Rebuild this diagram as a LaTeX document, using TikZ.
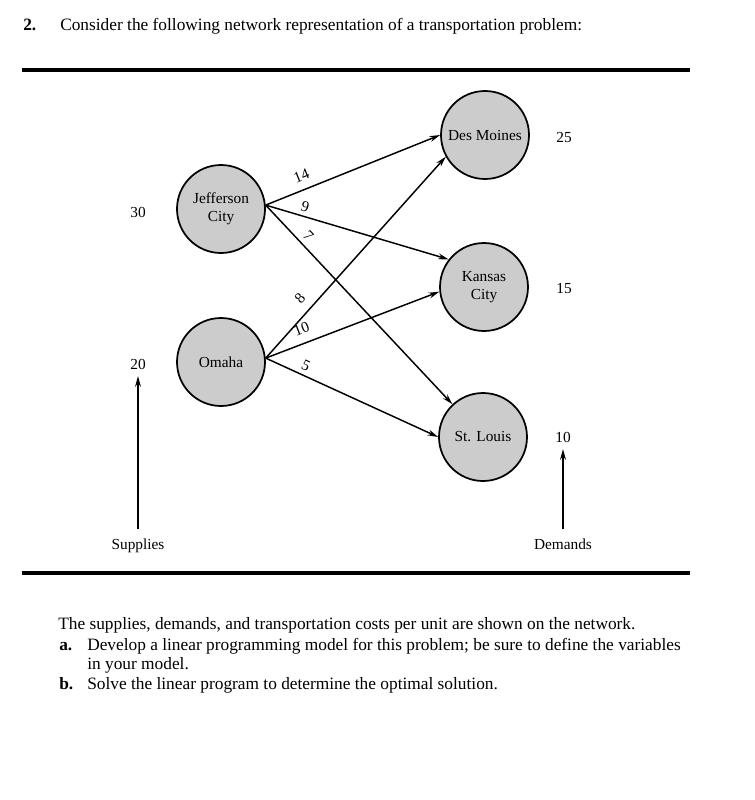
\documentclass[tikz,border=0pt]{standalone}
\usepackage{fontspec}
\setmainfont{Liberation Serif}
\usetikzlibrary{arrows.meta}
\tikzstyle{city}  = [circle, draw=black, line width=1.3pt, fill=gray!40, minimum size=66pt, inner sep=0pt, align=center]
\tikzstyle{arrow} = [line width=1.1pt, -{Stealth[length=8pt,width=4.4pt]}]
\tikzstyle{cost}  = [sloped, above=2.5pt, inner sep=0.5pt]

\begin{document}
\begin{tikzpicture}[x=0.75pt, y=-0.75pt, font=\fontsize{11.5}{13.5}\selectfont,
			qtext/.style={anchor=base west, inner sep=0pt, font=\fontsize{13}{15}\selectfont},
			amount/.style={inner sep=2pt}]

		\useasboundingbox (0,0) rectangle (755,800);

		\node[qtext] (num) at (23,30) {\textbf{2.}};
		\node[qtext] (intro) at (60,30) {Consider the following network representation of a transportation problem:};

		\draw[line width=3pt] (22,70) -- (690,70);
		\draw[line width=3pt] (22,573) -- (690,573);

		\node[city] (jc) at (221,209) {Jefferson\\City};
		\node[city] (om) at (221,362) {Omaha};
		\node[city] (dm) at (485,135) {Des Moines};
		\node[city] (kc) at (484,287) {Kansas\\City};
		\node[city] (sl) at (483,437) {St. Louis};

		\node[amount] (sup1) at (138,212) {30};
		\node[amount] (sup2) at (138,364) {20};
		\node[amount] (dem1) at (564,137) {25};
		\node[amount] (dem2) at (564,289) {15};
		\node[amount] (dem3) at (563,437) {10};

		\node[amount, anchor=base] (supplies) at (138,549) {Supplies};
		\node[amount, anchor=base] (demands) at (563,549) {Demands};

		\draw[arrow, shorten <=4.5pt, shorten >=3pt] (supplies.north) -- (sup2.south);
		\draw[arrow, shorten <=4.5pt, shorten >=3pt] (demands.north) -- (dem3.south);

		\draw[arrow] (jc.5) -- node[cost, pos=0.235, above=3.3pt] {14} (dm.west);
		\draw[arrow] (jc.5) -- node[cost, pos=0.2] {9} (kc.142);
		\draw[arrow] (jc.5) -- node[cost, pos=0.19] {7} (sl.133);
		\draw[arrow] (om.5) -- node[cost, pos=0.25, above=3.3pt] {8} (dm.209);
		\draw[arrow] (om.5) -- node[cost, pos=0.236, above=3.3pt] {10} (kc.186);
		\draw[arrow] (om.5) -- node[cost, pos=0.21] {5} (sl.west);

		\node[qtext] (ptext) at (58,629) {The supplies, demands, and transportation costs per unit are shown on the network.};
		\node[qtext] (la) at (59,650) {\textbf{a.}};
		\node[qtext] (pa) at (87,650) {Develop a linear programming model for this problem; be sure to define the variables};
		\node[qtext] (pa2) at (87,669) {in your model.};
		\node[qtext] (lb) at (59,689) {\textbf{b.}};
		\node[qtext] (pb) at (87,689) {Solve the linear program to determine the optimal solution.};
	\end{tikzpicture}
\end{document}
